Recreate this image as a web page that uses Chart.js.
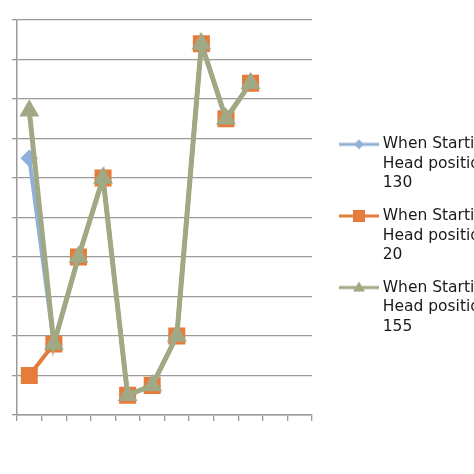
<!DOCTYPE html>
<html>
<head>
<meta charset="utf-8">
<script src="https://cdn.jsdelivr.net/npm/chart.js@4.4.1/dist/chart.umd.min.js"></script>
<style>
    html, body { margin: 0; padding: 0; background: #fff; overflow: hidden; }
    #wrap { width: 474px; height: 474px; }
</style>
</head>
<body>
<div id="wrap"><canvas id="chart" width="474" height="474"></canvas></div>
<script>
// データ
const categories = ['1', '2', '3', '4', '5', '6', '7', '8', '9', '10', '11', '12'];
const head130 = [65, 18, 40, 60, 5, 7.5, 20, 94, 75, 84, null, null];
const head20 = [10, 18, 40, 60, 5, 7.5, 20, 94, 75, 84, null, null];
const head155 = [77, 18, 40, 60, 5, 7.5, 20, 94, 75, 84, null, null];
const yTicks = [0, 10, 20, 30, 40, 50, 60, 70, 80, 90, 100];
const seriesNames = [
    ['When Starting', 'Head position', '130'],
    ['When Starting', 'Head position', '20'],
    ['When Starting', 'Head position', '155']
];

const BLUE = '#8fb0d8';
const ORANGE = '#e67c3c';
const GREEN = '#a0a884';
const GRID = '#9a9a9a';
const TEXT = '#1a1a1a';

// 凡例アイコン（線＋マーカー）
function legendIcon(color, shape) {
    const c = document.createElement('canvas');
    c.width = 40; c.height = 16;
    const g = c.getContext('2d');
    g.strokeStyle = color;
    g.lineWidth = 3;
    g.beginPath(); g.moveTo(0, 8); g.lineTo(40, 8); g.stroke();
    g.fillStyle = color;
    g.beginPath();
    if (shape === 'diamond') {
        g.moveTo(20, 3); g.lineTo(25, 8); g.lineTo(20, 13); g.lineTo(15, 8);
    } else if (shape === 'square') {
        g.rect(14, 2, 12, 12);
    } else {
        g.moveTo(20, 2); g.lineTo(26, 12); g.lineTo(14, 12);
    }
    g.closePath(); g.fill();
    return c;
}
const icons = [legendIcon(BLUE, 'diamond'), legendIcon(ORANGE, 'square'), legendIcon(GREEN, 'triangle')];

new Chart(document.getElementById('chart'), {
    type: 'line',
    data: {
        labels: categories,
        datasets: [{
            label: seriesNames[0].join(' '),
            data: head130,
            borderColor: BLUE,
            backgroundColor: BLUE,
            borderWidth: 4,
            pointStyle: 'rectRot',
            pointRadius: 6,
            order: 3
        }, {
            label: seriesNames[1].join(' '),
            data: head20,
            borderColor: ORANGE,
            backgroundColor: ORANGE,
            borderWidth: 4,
            pointStyle: 'rect',
            pointRadius: 9.2,
            order: 2
        }, {
            label: seriesNames[2].join(' '),
            data: head155,
            borderColor: GREEN,
            backgroundColor: GREEN,
            borderWidth: 5,
            pointStyle: 'triangle',
            pointRadius: 6.5,
            order: 1
        }]
    },
    options: {
        responsive: false,
        animation: false,
        layout: { padding: { left: 12, top: 20, right: 0, bottom: 53 } },
        elements: { line: { tension: 0 } },
        scales: {
            x: {
                offset: true,
                grid: { offset: true, drawOnChartArea: false, color: GRID, lineWidth: 1.3, tickLength: 6 },
                border: { color: GRID, width: 1.5 },
                ticks: { display: false }
            },
            y: {
                min: yTicks[0],
                max: yTicks[yTicks.length - 1],
                afterBuildTicks: (scale) => { scale.ticks = yTicks.map(v => ({ value: v })); },
                grid: { color: GRID, lineWidth: 1.3, tickLength: 5 },
                border: { color: GRID, width: 1.5 },
                ticks: { display: false }
            },
            gap: {
                position: 'right',
                grid: { display: false },
                border: { display: false },
                ticks: { display: false },
                afterFit: (scale) => { scale.width = 18; }
            }
        },
        plugins: {
            tooltip: { enabled: false },
            legend: {
                position: 'right',
                maxWidth: 144,
                // 凡例を少し下げるための空タイトル
                title: { display: true, text: '', color: TEXT, font: { size: 2, lineHeight: 1 }, padding: { top: 32, bottom: 0 } },
                labels: {
                    usePointStyle: true,
                    pointStyleWidth: 32,
                    padding: 13,
                    color: TEXT,
                    font: { family: 'DejaVu Sans', size: 15.5, lineHeight: 1.26 },
                    generateLabels: () => seriesNames.map((t, i) => ({
                        text: t,
                        fontColor: TEXT,
                        pointStyle: icons[i],
                        fillStyle: '#fff',
                        strokeStyle: '#fff',
                        lineWidth: 0,
                        hidden: false,
                        datasetIndex: i
                    }))
                }
            }
        }
    }
});
</script>
</body>
</html>
